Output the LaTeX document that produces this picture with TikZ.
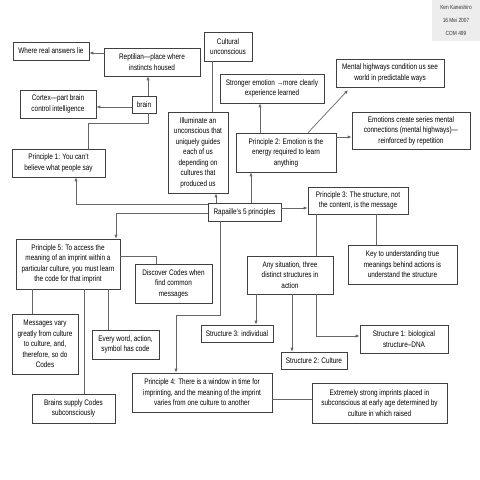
\documentclass[tikz,border=0pt]{standalone}
\usepackage{fontspec}
\setmainfont{Liberation Sans}[FakeStretch=0.8]
\usetikzlibrary{arrows.meta}
\begin{document}
\begin{tikzpicture}[x=1pt,y=-1pt,
  box/.style={draw=black!75, line width=0.6pt, inner sep=0pt, align=center,
    font=\fontsize{8}{10.5}\selectfont, fill=white},
  link/.style={draw=black!60, line width=0.7pt},
  arr/.style={link, -{Latex[length=4pt,width=3.2pt]}}]
\useasboundingbox (0,0) rectangle (480,480);
\fill[white] (0,0) rectangle (480,480);
% header
\node[fill=black!7, minimum width=48, minimum height=41, inner sep=0pt, align=center,
  text=black!80, font=\fontsize{6}{13}\selectfont] (hdr) at (456,20.5) {Ken Kaneshiro\\16 Mei 2007\\COM 499};
% nodes
\node[box, minimum width=76, minimum height=18] (real) at (51,51) {Where real answers lie};
\node[box, minimum width=96, minimum height=28] (rept) at (152,62) {Reptilian—place where\\instincts housed};
\node[box, minimum width=24, minimum height=17] (brain) at (144,104.5) {brain};
\node[box, minimum width=76, minimum height=28] (cortex) at (58,104) {Cortex—part brain\\control intelligence};
\node[box, minimum width=48, minimum height=29] (cult) at (228,46.5) {Cultural\\unconscious};
\node[box, minimum width=60, minimum height=81] (illum) at (198,152.5) {Illuminate an\\unconscious that\\uniquely guides\\each of us\\depending on\\cultures that\\produced us};
\node[box, minimum width=93, minimum height=28] (p1) at (58.5,163) {Principle 1: You can’t\\believe what people say};
\node[box, minimum width=104, minimum height=29] (strong) at (272,88.5) {Stronger emotion →more clearly\\experience learned};
\node[box, minimum width=108, minimum height=28] (mental) at (390,73) {Mental highways condition us see\\world in predictable ways};
\node[box, minimum width=100, minimum height=39] (p2) at (286,152.5) {Principle 2: Emotion is the\\energy required to learn\\anything};
\node[box, minimum width=118, minimum height=37] (emot) at (411,130.5) {Emotions create series mental\\connections (mental highways)—\\reinforced by repetition};
\node[box, minimum width=73, minimum height=18] (rap) at (244.5,212) {Rapaille’s 5 principles};
\node[box, minimum width=100, minimum height=27] (p3) at (358,200.5) {Principle 3: The structure, not\\the content, is the message};
\node[box, minimum width=109, minimum height=39] (key) at (402.5,264.5) {Key to understanding true\\meanings behind actions is\\understand the structure};
\node[box, minimum width=86, minimum height=38] (any) at (290,275) {Any situation, three\\distinct structures in\\action};
\node[box, minimum width=104, minimum height=50] (p5) at (68,264) {Principle 5: To access the\\meaning of an imprint within a\\particular culture, you must learn\\the code for that imprint};
\node[box, minimum width=77, minimum height=39] (disc) at (173.5,283.5) {Discover Codes when\\find common\\messages};
\node[box, minimum width=66, minimum height=60] (msgs) at (45,344) {Messages vary\\greatly from culture\\to culture, and,\\therefore, so do\\Codes};
\node[box, minimum width=67, minimum height=29] (every) at (125.5,344.5) {Every word, action,\\symbol has code};
\node[box, minimum width=83, minimum height=29] (brains) at (73.5,408.5) {Brains supply Codes\\subconsciously};
\node[box, minimum width=140, minimum height=39] (p4) at (202,392.5) {Principle 4: There is a window in time for\\imprinting, and the meaning of the imprint\\varies from one culture to another};
\node[box, minimum width=135, minimum height=40] (extr) at (379.5,403) {Extremely strong imprints placed in\\subconscious at early age determined by\\culture in which raised};
\node[box, minimum width=72, minimum height=17] (s3) at (237,333.5) {Structure 3: individual};
\node[box, minimum width=66, minimum height=17] (s2) at (314,360.5) {Structure 2: Culture};
\node[box, minimum width=88, minimum height=28] (s1) at (404,339) {Structure 1: biological\\structure–DNA};
% connectors
\coordinate (b1) at (148,123);
\coordinate (b2) at (88,123);
\coordinate (r1) at (76,204);
\coordinate (r2) at (116,213);
\coordinate (r3) at (220,315);
\coordinate (r4) at (176,315);
\coordinate (a1) at (316,336);
\coordinate (d1) at (156,256);
\draw[arr] (rept.west |- 0,53) -- (real.east |- 0,53);
\draw[arr] (brain.north -| b1) -- (rept.south -| b1);
\draw[arr] (brain.west |- 0,107) -- (cortex.east |- 0,107);
\draw[link] (brain.south -| b1) -- (b1) -- (b2) -- (p1.north -| b2);
\draw[link] (cult.south -| 212,0) -- (illum.north -| 212,0);
\draw[arr] (rap.north -| 216,0) -- (illum.south -| 216,0);
\draw[arr] (rap.north -| 251,0) -- (p2.south -| 251,0);
\draw[arr] (p2.north -| 260,0) -- (strong.south -| 260,0);
\draw[arr] (p2.north -| 308,0) -- (348,90);
\draw[arr] (p2.east |- 0,137) -- (emot.west |- 0,137);
\draw[arr] (rap.west |- r1) -- (r1) -- (p1.south -| r1);
\draw[arr] (rap.west |- r2) -- (r2) -- (p5.north -| r2);
\draw[arr] (rap.east |- 0,208) -- (p3.west |- 0,208);
\draw[arr] (rap.south -| r3) -- (r3) -- (r4) -- (p4.north -| r4);
\draw[link] (p3.south -| 376,0) -- (key.north -| 376,0);
\draw[link] (p3.south -| 316,0) -- (any.north -| 316,0);
\draw[arr] (any.south -| 256,0) -- (s3.north -| 256,0);
\draw[arr] (any.south -| 292,0) -- (s2.north -| 292,0);
\draw[arr] (any.south -| a1) -- (a1) -- (s1.west |- a1);
\draw[link] (p5.east |- d1) -- (d1) -- (disc.north -| d1);
\draw[link] (p5.south -| 32,0) -- (msgs.north -| 32,0);
\draw[link] (p5.south -| 84,0) -- (brains.north -| 84,0);
\draw[link] (p5.south -| 108,0) -- (every.north -| 108,0);
\draw[link] (p4.east |- 0,399) -- (extr.west |- 0,399);
\end{tikzpicture}
\end{document}
